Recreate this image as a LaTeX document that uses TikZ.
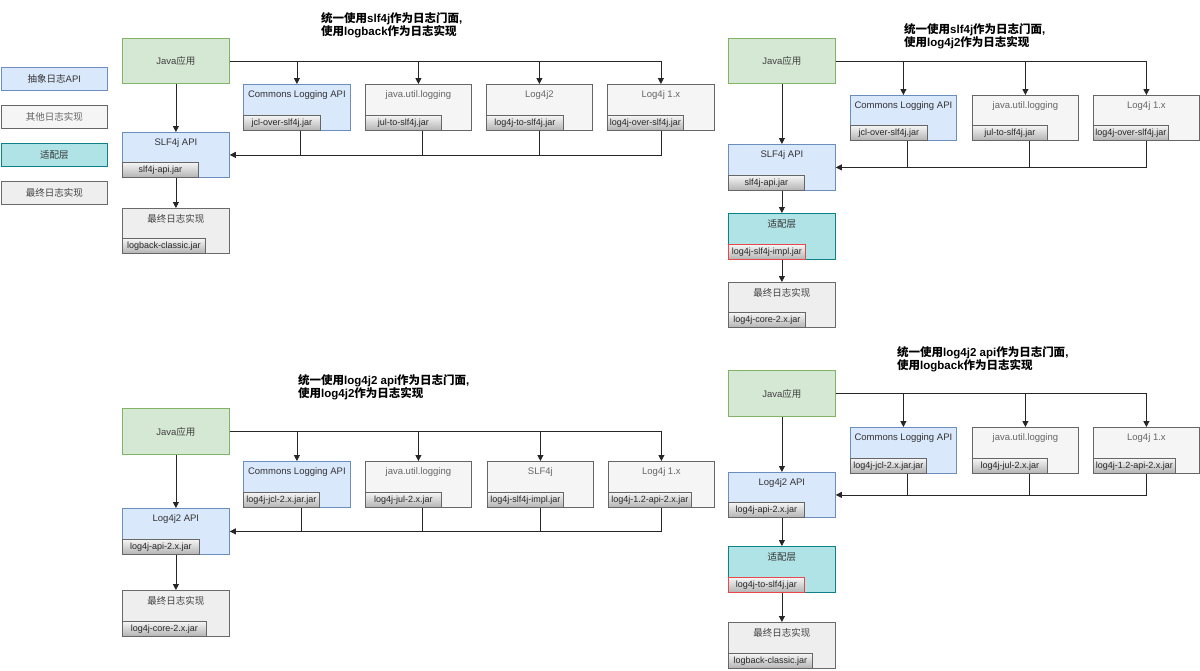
\documentclass[tikz,border=0pt]{standalone}
\usepackage{fontspec}
\setmainfont{Liberation Sans}
\newfontfamily\cjk{Noto Sans CJK SC}
\usetikzlibrary{arrows.meta}
\definecolor{apiF}{HTML}{DAE8FC}\definecolor{apiD}{HTML}{6C8EBF}
\definecolor{othF}{HTML}{F5F5F5}\definecolor{othD}{HTML}{666666}
\definecolor{adpF}{HTML}{B0E3E6}\definecolor{adpD}{HTML}{0E8088}
\definecolor{finF}{HTML}{EEEEEE}\definecolor{finD}{HTML}{6A6A6A}
\definecolor{appF}{HTML}{D5E8D4}\definecolor{appD}{HTML}{82B366}
\definecolor{jarT}{HTML}{F5F5F5}\definecolor{jarB}{HTML}{B3B3B3}
\definecolor{redD}{HTML}{E8474A}
\newcommand\boxfont{\fontsize{9.5}{11}\selectfont}
\newcommand\jarfont{\fontsize{9}{10}\selectfont}
\newcommand\ttlfont{\fontsize{11.5}{13.5}\selectfont\bfseries}
\tikzset{
  box/.style={draw, line width=0.8pt, anchor=north west, inner sep=0pt, font=\boxfont},
  apibox/.style={box, fill=apiF, draw=apiD, text=black!80},
  othbox/.style={box, fill=othF, draw=othD, text=black!60},
  adpbox/.style={box, fill=adpF, draw=adpD, text=black!80},
  finbox/.style={box, fill=finF, draw=finD, text=black!75},
  appbox/.style={box, fill=appF, draw=appD, text=black!75},
  jar/.style={draw=othD, line width=0.7pt, top color=jarT, bottom color=jarB, anchor=south west,
    minimum height=15pt, inner sep=0pt, font=\jarfont, text=black!85},
  apibox jar/.style={jar}, othbox jar/.style={jar}, finbox jar/.style={jar},
  adpbox jar/.style={jar, draw=redD},
  conn/.style={draw=black!85, line width=0.8pt},
  arr/.style={conn, -{Triangle[length=6pt,width=6pt]}},
  ttl/.style={anchor=north west, inner sep=0pt, align=left, font=\ttlfont, text=black},
}
% #1 name, #2 style, #3 x, #4 y, #5 w, #6 h, #7 title, #8 jar width, #9 jar text
\newcommand{\mkbox}[9]{%
  \node[#2, minimum width=#5pt, minimum height=#6pt] (#1) at (#3,#4) {};
  \node[#2, draw=none, fill=none, anchor=center] (#1t) at ([yshift=-11pt]#1.north) {#7};
  \node[#2 jar, minimum width=#8pt] (#1j) at (#1.south west) {#9};
}
\begin{document}
\begin{tikzpicture}[x=1pt,y=-1pt]
\useasboundingbox (0,0) rectangle (1200,670);
\fill[white] (0,0) rectangle (1200,670);

% legend
\node[apibox, minimum width=106pt, minimum height=23pt] (lg1) at (1,67) {{\cjk 抽象日志}API};
\node[othbox, minimum width=106pt, minimum height=23pt] (lg2) at (1,105) {\cjk 其他日志实现};
\node[adpbox, minimum width=106pt, minimum height=23pt] (lg3) at (1,143) {\cjk 适配层};
\node[finbox, minimum width=106pt, minimum height=23pt] (lg4) at (1,181) {\cjk 最终日志实现};

% ===== diagram 1 (top left)
\node[ttl] (t1) at (321,12) {{\cjk 统一使用}slf4j{\cjk 作为日志门面},\\{\cjk 使用}logback{\cjk 作为日志实现}};
\node[appbox, minimum width=107pt, minimum height=45pt] (app1) at (122,38) {Java{\cjk 应用}};
\mkbox{cl1}{apibox}{243}{84}{107}{46}{Commons Logging API}{77}{jcl-over-slf4j.jar}
\mkbox{ju1}{othbox}{365}{84}{106}{46}{java.util.logging}{76}{jul-to-slf4j.jar}
\mkbox{lt1}{othbox}{486}{84}{106}{46}{Log4j2}{77}{log4j-to-slf4j.jar}
\mkbox{lo1}{othbox}{607}{84}{107}{46}{Log4j 1.x}{76}{log4j-over-slf4j.jar}
\mkbox{api1}{apibox}{122}{132}{107}{45}{SLF4j API}{76}{slf4j-api.jar}
\mkbox{fin1}{finbox}{122}{208}{107}{45}{\cjk 最终日志实现}{83}{logback-classic.jar}
\draw[conn] (app1.east) -- (app1.east -| lo1.north);
\foreach \n in {cl1,ju1,lt1,lo1} \draw[arr] (app1.east -| \n.north) -- (\n.north);
\draw[arr] (app1.south) -- (api1.north);
\draw[arr] (api1.south) -- (fin1.north);
\draw[conn] ([xshift=3.5pt]cl1.south) -- ([xshift=3.5pt]cl1.south |- api1.east);
\draw[conn] ([xshift=3.5pt]ju1.south) -- ([xshift=3.5pt]ju1.south |- api1.east);
\draw[conn] (lt1.south) -- (lt1.south |- api1.east);
\draw[arr] (lo1.south) |- (api1.east);

% ===== diagram 2 (top right)
\node[ttl] (t2) at (904,23) {{\cjk 统一使用}slf4j{\cjk 作为日志门面},\\{\cjk 使用}log4j2{\cjk 作为日志实现}};
\node[appbox, minimum width=107pt, minimum height=45pt] (app2) at (728,38) {Java{\cjk 应用}};
\mkbox{cl2}{apibox}{850}{95}{106}{45}{Commons Logging API}{77}{jcl-over-slf4j.jar}
\mkbox{ju2}{othbox}{972}{95}{106}{45}{java.util.logging}{75}{jul-to-slf4j.jar}
\mkbox{lo2}{othbox}{1093}{95}{106}{45}{Log4j 1.x}{75}{log4j-over-slf4j.jar}
\mkbox{api2}{apibox}{728}{144}{107}{46}{SLF4j API}{76}{slf4j-api.jar}
\mkbox{adp2}{adpbox}{728}{213}{107}{46}{\cjk 适配层}{77}{log4j-slf4j-impl.jar}
\mkbox{fin2}{finbox}{728}{282}{107}{45}{\cjk 最终日志实现}{77}{log4j-core-2.x.jar}
\draw[conn] (app2.east) -- (app2.east -| lo2.north);
\foreach \n in {cl2,ju2,lo2} \draw[arr] (app2.east -| \n.north) -- (\n.north);
\draw[arr] (app2.south) -- (api2.north);
\draw[arr] (api2.south) -- (adp2.north);
\draw[arr] (adp2.south) -- (fin2.north);
\draw[conn] ([xshift=3.5pt]cl2.south) -- ([xshift=3.5pt]cl2.south |- api2.east);
\draw[conn] ([xshift=3.5pt]ju2.south) -- ([xshift=3.5pt]ju2.south |- api2.east);
\draw[arr] (lo2.south) |- (api2.east);

% ===== diagram 3 (bottom left)
\node[ttl] (t3) at (298,374) {{\cjk 统一使用}log4j2 api{\cjk 作为日志门面},\\{\cjk 使用}log4j2{\cjk 作为日志实现}};
\node[appbox, minimum width=107pt, minimum height=46pt] (app3) at (122,408) {Java{\cjk 应用}};
\mkbox{cl3}{apibox}{243}{461}{107}{46}{Commons Logging API}{76}{log4j-jcl-2.x.jar.jar}
\mkbox{ju3}{othbox}{365}{461}{106}{46}{java.util.logging}{76}{log4j-jul-2.x.jar}
\mkbox{sl3}{othbox}{487}{461}{106}{46}{SLF4j}{76}{log4j-slf4j-impl.jar}
\mkbox{lo3}{othbox}{608}{461}{106}{46}{Log4j 1.x}{83}{log4j-1.2-api-2.x.jar}
\mkbox{api3}{apibox}{122}{508}{107}{46}{Log4j2 API}{77}{log4j-api-2.x.jar}
\mkbox{fin3}{finbox}{122}{590}{107}{46}{\cjk 最终日志实现}{84}{log4j-core-2.x.jar}
\draw[conn] (app3.east) -- (app3.east -| lo3.north);
\foreach \n in {cl3,ju3,sl3,lo3} \draw[arr] (app3.east -| \n.north) -- (\n.north);
\draw[arr] (app3.south) -- (api3.north);
\draw[arr] (api3.south) -- (fin3.north);
\draw[conn] ([xshift=4pt]cl3.south) -- ([xshift=4pt]cl3.south |- api3.east);
\draw[conn] ([xshift=4pt]ju3.south) -- ([xshift=4pt]ju3.south |- api3.east);
\draw[conn] (sl3.south) -- (sl3.south |- api3.east);
\draw[arr] (lo3.south) |- (api3.east);

% ===== diagram 4 (bottom right)
\node[ttl] (t4) at (897,346) {{\cjk 统一使用}log4j2 api{\cjk 作为日志门面},\\{\cjk 使用}logback{\cjk 作为日志实现}};
\node[appbox, minimum width=107pt, minimum height=46pt] (app4) at (728,370) {Java{\cjk 应用}};
\mkbox{cl4}{apibox}{850}{427}{106}{46}{Commons Logging API}{76}{log4j-jcl-2.x.jar.jar}
\mkbox{ju4}{othbox}{972}{427}{106}{46}{java.util.logging}{75}{log4j-jul-2.x.jar}
\mkbox{lo4}{othbox}{1093}{427}{106}{46}{Log4j 1.x}{82}{log4j-1.2-api-2.x.jar}
\mkbox{api4}{apibox}{728}{472}{107}{45}{Log4j2 API}{76}{log4j-api-2.x.jar}
\mkbox{adp4}{adpbox}{728}{546}{107}{46}{\cjk 适配层}{76}{log4j-to-slf4j.jar}
\mkbox{fin4}{finbox}{728}{622}{107}{46}{\cjk 最终日志实现}{84}{logback-classic.jar}
\draw[conn] (app4.east) -- (app4.east -| lo4.north);
\foreach \n in {cl4,ju4,lo4} \draw[arr] (app4.east -| \n.north) -- (\n.north);
\draw[arr] (app4.south) -- (api4.north);
\draw[arr] (api4.south) -- (adp4.north);
\draw[arr] (adp4.south) -- (fin4.north);
\draw[conn] ([xshift=4pt]cl4.south) -- ([xshift=4pt]cl4.south |- api4.east);
\draw[conn] ([xshift=4pt]ju4.south) -- ([xshift=4pt]ju4.south |- api4.east);
\draw[arr] (lo4.south) |- (api4.east);
\end{tikzpicture}
\end{document}
